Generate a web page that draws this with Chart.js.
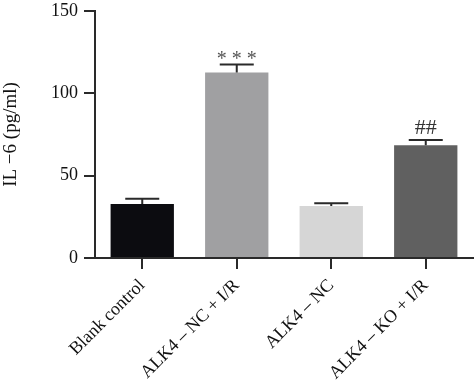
<!DOCTYPE html>
<html>
<head>
<meta charset="utf-8">
<script src="https://cdn.jsdelivr.net/npm/chart.js@4"></script>
<style>
  html, body { margin: 0; padding: 0; background: #fff; }
  #wrap { width: 474px; height: 387px; }
</style>
</head>
<body>
<div id="wrap"><canvas id="myChart"></canvas></div>
<script>
const groups = ['Blank control', 'ALK4 \u2013 NC + I/R', 'ALK4 \u2013 NC', 'ALK4 \u2013 KO + I/R'];
const il6 = [32.8, 112.7, 31.6, 68.4];
const il6Err = [3.2, 4.8, 1.6, 3.2];
const marks = ['', '***', '', '##'];
const barColors = ['#0c0c10', '#a0a0a2', '#d6d6d6', '#606060'];

const serif = '"Liberation Serif", "DejaVu Serif", serif';

// error bars (upper only) and significance marks
const errorBars = {
    id: 'errorBars',
    afterDatasetsDraw(chart) {
        const ctx = chart.ctx;
        const y = chart.scales.y;
        const meta = chart.getDatasetMeta(0);
        ctx.save();
        meta.data.forEach((bar, i) => {
            const top = y.getPixelForValue(il6[i] + il6Err[i]);
            ctx.strokeStyle = '#2a2a2a';
            ctx.lineWidth = 2;
            ctx.beginPath();
            ctx.moveTo(bar.x, bar.y);
            ctx.lineTo(bar.x, top);
            ctx.moveTo(bar.x - 17, top);
            ctx.lineTo(bar.x + 17, top);
            ctx.stroke();
            if (marks[i] === '***') {
                ctx.fillStyle = '#555';
                ctx.font = '20px ' + serif;
                ctx.textAlign = 'center';
                ctx.textBaseline = 'bottom';
                ctx.fillText('* * *', bar.x, top + 5);
            } else if (marks[i]) {
                ctx.fillStyle = '#333';
                ctx.font = '22px ' + serif;
                ctx.textAlign = 'center';
                ctx.textBaseline = 'bottom';
                ctx.fillText(marks[i], bar.x, top - 1);
            }
        });
        ctx.restore();
    }
};

new Chart(document.getElementById('myChart'), {
    type: 'bar',
    data: {
        labels: groups,
        datasets: [{
            data: il6,
            backgroundColor: barColors,
            barPercentage: 0.67,
            categoryPercentage: 1
        }]
    },
    plugins: [errorBars],
    options: {
        responsive: true,
        maintainAspectRatio: false,
        animation: false,
        layout: { padding: { top: 11, right: 1, left: 0, bottom: 0 } },
        plugins: { legend: { display: false }, tooltip: { enabled: false } },
        scales: {
            x: {
                offset: true,
                grid: { drawOnChartArea: false, drawTicks: true, tickLength: 11, color: '#2a2a2a', lineWidth: 2, offset: false },
                border: { color: '#2a2a2a', width: 2 },
                ticks: {
                    color: '#111',
                    font: { family: serif, size: 18 },
                    maxRotation: 45,
                    minRotation: 45,
                    padding: 6
                },
                afterFit(scale) { scale.height = 129; }
            },
            y: {
                min: 0,
                max: 150,
                grid: { drawOnChartArea: false, drawTicks: true, tickLength: 11, color: '#2a2a2a', lineWidth: 2 },
                border: { color: '#2a2a2a', width: 2 },
                ticks: {
                    stepSize: 50,
                    color: '#111',
                    font: { family: serif, size: 18 },
                    padding: 6
                },
                title: {
                    display: true,
                    text: 'IL \u22126 (pg/ml)',
                    color: '#111',
                    font: { family: serif, size: 19 },
                    padding: 0
                },
                afterFit(scale) {
                    scale.width = 95;
                    scale.paddingTop = 0;
                    scale.paddingBottom = 0;
                }
            }
        }
    }
});
</script>
</body>
</html>
